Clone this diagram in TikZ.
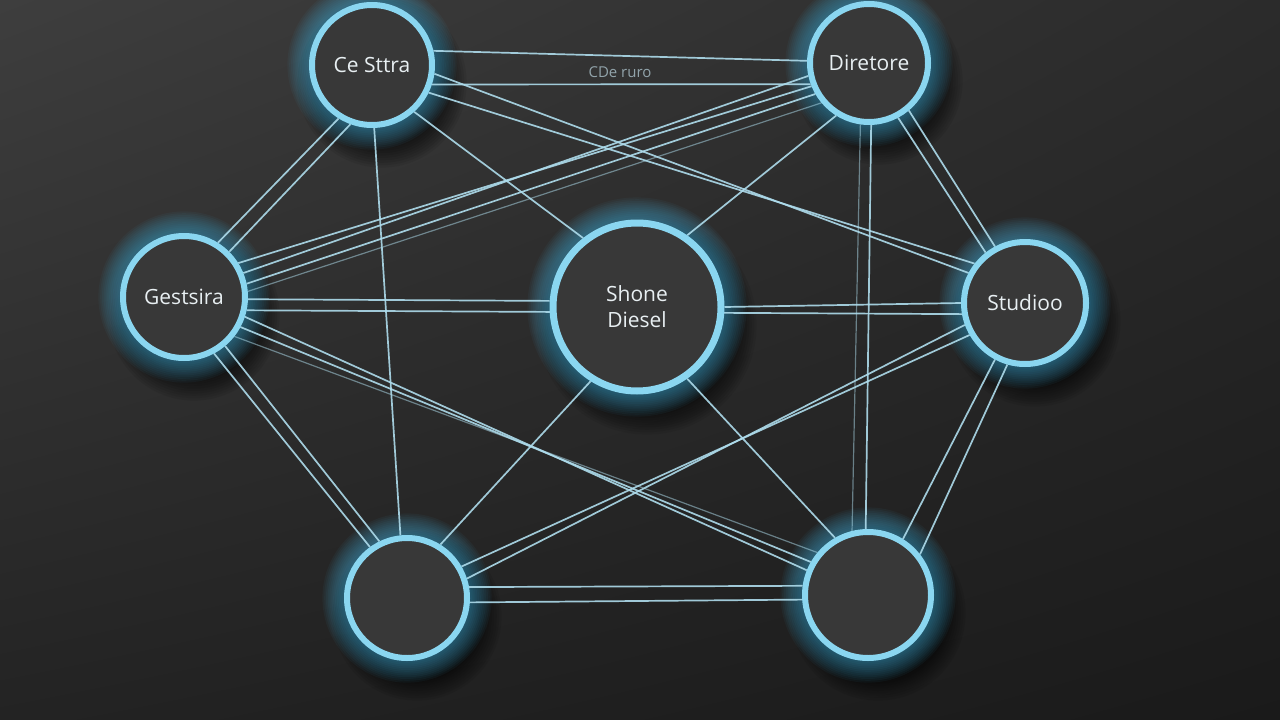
\documentclass[tikz,border=0pt]{standalone}
\usepackage{fontspec}
\setmainfont{Open Sans}
\usetikzlibrary{shadings}
\pgfdeclarelayer{back}
\pgfdeclarelayer{glow}
\pgfdeclarelayer{edges}
\pgfsetlayers{back,glow,edges,main}
\definecolor{ringc}{HTML}{8AD6F0}
\definecolor{glowc}{HTML}{45B2DE}
\definecolor{linec}{HTML}{AEDCEC}
\definecolor{fillc}{HTML}{383838}
\definecolor{txtc}{HTML}{E8EFF2}
\definecolor{bgA}{HTML}{3E3E3E}
\definecolor{bgB}{HTML}{2B2B2B}
\definecolor{bgC}{HTML}{232323}
\definecolor{bgD}{HTML}{1A1A1A}
\tikzset{
  hub/.style={circle, draw=ringc, line width=6pt, fill=fillc, text=txtc,
    font=\fontsize{21}{26}\selectfont, align=center, inner sep=0pt},
  link/.style={draw=linec, line width=1.7pt, opacity=0.9},
  faint/.style={draw=linec, line width=1.2pt, opacity=0.5},
  tag/.style={text=gray!60!linec, font=\fontsize{15}{17}\selectfont},
}
\begin{document}
\begin{tikzpicture}[x=1pt,y=-1pt]
\useasboundingbox (0,0) rectangle (1280,720);
\begin{pgfonlayer}{back}
\shade[upper left=bgA, upper right=bgB, lower left=bgC, lower right=bgD] (0,0) rectangle (1280,720);
\end{pgfonlayer}

% nodes
\node[hub, minimum size=120] (cs) at (372,65) {Ce Sttra};
\node[hub, minimum size=118] (di) at (869,63) {Diretore};
\node[hub, minimum size=122] (ge) at (184,297) {Gestsira};
\node[hub, minimum size=168, line width=7pt] (sd) at (637,307) {Shone\\Diesel};
\node[hub, minimum size=122] (st) at (1025,303) {Studioo};
\node[hub, minimum size=120] (bl) at (407,598) {};
\node[hub, minimum size=126] (br) at (868,595) {};
\node[tag] (lb) at (620,72) {CDe ruro};

% glow and shadow
\begin{pgfonlayer}{glow}
\foreach \n/\r in {cs/63,di/62,ge/64,sd/88,st/64,bl/63,br/66}{
  \foreach \i in {0,...,9}{
    \fill[black, opacity=0.07] ([shift={(10,18)}]\n.center) circle ({\r+\i*2.4});
  }
  \foreach \i in {1,...,12}{
    \fill[glowc, opacity=0.05] (\n.center) circle ({\r+\i*1.8});
  }
}
\end{pgfonlayer}

% edges
\begin{pgfonlayer}{edges}
% top row
\draw[link] (cs.13) -- (di.178);
\draw[link] (cs.-18) -- (di.200);
% CS to others
\draw[link] (cs.-8) -- (st.152);
\draw[link] (cs.-26) -- (st.142);
\draw[link] (cs.-48) -- (sd.128);
\draw[link] (cs.-88) -- (bl.96);
\draw[link] (cs.-122) -- (ge.58);
\draw[link] (cs.-110) -- (ge.45);
% DI to others
\draw[link] (di.-158) -- (ge.32);
\draw[link] (di.-168) -- (ge.22);
\draw[link] (di.-150) -- (ge.12);
\draw[faint] (di.-140) -- (ge.5);
\draw[link] (di.-122) -- (sd.55);
\draw[link] (di.-88) -- (br.92);
\draw[faint] (di.-98) -- (br.104);
\draw[link] (di.-50) -- (st.118);
\draw[link] (di.-62) -- (st.128);
% GE to others
\draw[link] (ge.-2) -- (sd.176);
\draw[link] (ge.-18) -- (br.158);
\draw[link] (ge.-28) -- (br.150);
\draw[faint] (ge.-38) -- (br.140);
\draw[link] (ge.-62) -- (bl.126);
\draw[link] (ge.-50) -- (bl.116);
\draw[link] (ge.-12) -- (st.-170);
% SD to others
\draw[link] (sd.0) -- (st.180);
\draw[link] (sd.-122) -- (bl.58);
\draw[link] (sd.-55) -- (br.120);
% ST to others
\draw[link] (st.-150) -- (bl.30);
\draw[link] (st.-160) -- (bl.18);
\draw[link] (st.-118) -- (br.58);
\draw[link] (st.-106) -- (br.38);
% bottom row
\draw[link] (bl.10) -- (br.172);
\draw[link] (bl.-4) -- (br.-176);
\end{pgfonlayer}
\end{tikzpicture}
\end{document}
